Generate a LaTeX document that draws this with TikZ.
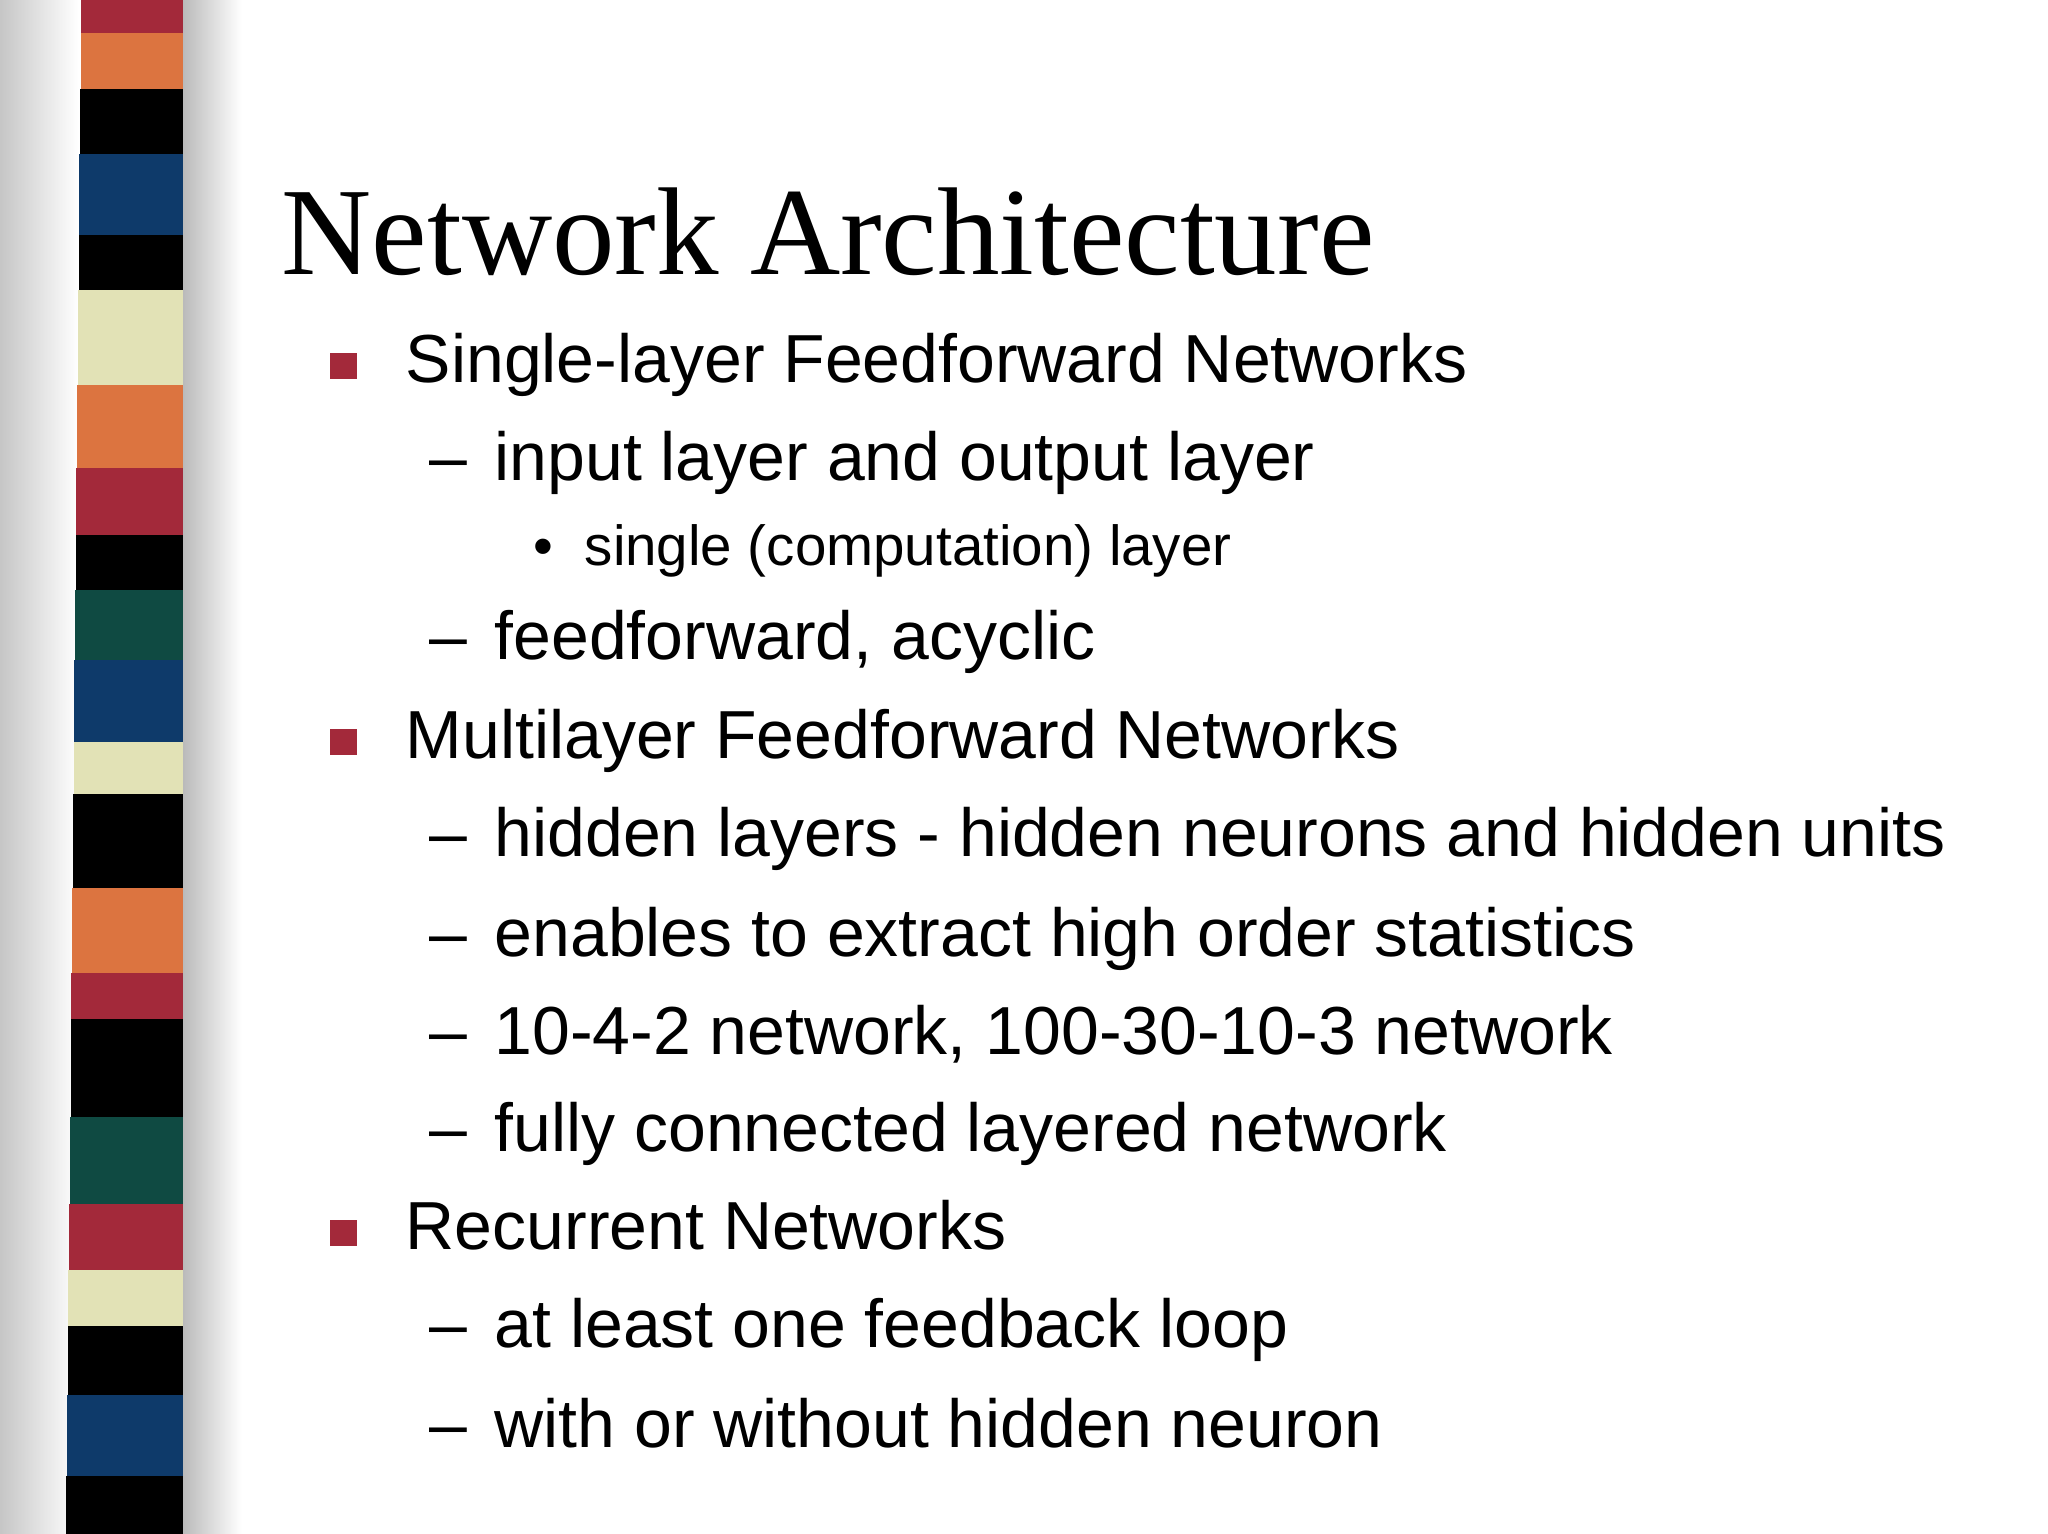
\documentclass[tikz,border=0pt]{standalone}
\usepackage{fontspec}
\setmainfont{Liberation Sans}
\newfontfamily\titlefont{Liberation Serif}
\definecolor{sRed}{HTML}{A3293A}
\definecolor{sOrange}{HTML}{DC7440}
\definecolor{sNavy}{HTML}{0E3A6A}
\definecolor{sCream}{HTML}{E2E2B6}
\definecolor{sGreen}{HTML}{0F4A42}
\definecolor{bulletred}{HTML}{A3293A}
\tikzset{
  lone/.style={anchor=base west,font=\fontsize{14.8pt}{16pt}\selectfont,inner sep=0pt},
  lthree/.style={anchor=base west,font=\fontsize{12.3pt}{14pt}\selectfont,inner sep=0pt},
  sq/.style={fill=bulletred,minimum size=0.2cm,inner sep=0pt},
}
\begin{document}
\begin{tikzpicture}[x=0.01cm,y=-0.01cm]
\useasboundingbox (0,0) rectangle (1568,1174);
\fill[white] (0,0) rectangle (1568,1174);
% shadows
\shade[left color=gray!45,right color=white] (0,0) rectangle (60,1174);
\shade[left color=gray!60,right color=white] (135,0) rectangle (185,1174);
% stripe bands
\foreach \a/\b/\c in {0/25/sRed,25/68/sOrange,68/118/black,118/180/sNavy,180/222/black,222/295/sCream,295/358/sOrange,358/410/sRed,410/452/black,452/505/sGreen,505/568/sNavy,568/608/sCream,608/680/black,680/745/sOrange,745/780/sRed,780/855/black,855/922/sGreen,922/972/sRed,972/1015/sCream,1015/1068/black,1068/1130/sNavy,1130/1174/black}{
  \fill[\c] (62-\a/100,\a) rectangle (140,\b+1);
}
\fill[white,opacity=0] (0,0) rectangle (1,1);
% title
\node[anchor=base west,inner sep=0pt,font=\titlefont\fontsize{27.2pt}{30pt}\selectfont] (title) at (215,210) {Network Architecture};
% level 1
\node[sq] (b1) at (263,280) {};
\node[lone] (t1) at (310,293) {Single-layer Feedforward Networks};
\node[lone] (d11) at (328,368) {--};
\node[lone] (t11) at (378,368) {input layer and output layer};
\node[lthree] (d111) at (408,433) {•};
\node[lthree] (t111) at (447,433) {single (computation) layer};
\node[lone] (d12) at (328,505) {--};
\node[lone] (t12) at (378,505) {feedforward, acyclic};
\node[sq] (b2) at (263,568) {};
\node[lone] (t2) at (310,581) {Multilayer Feedforward Networks};
\node[lone] (d21) at (328,656) {--};
\node[lone] (t21) at (378,656) {hidden layers - hidden neurons and hidden units};
\node[lone] (d22) at (328,732) {--};
\node[lone] (t22) at (378,732) {enables to extract high order statistics};
\node[lone] (d23) at (328,807) {--};
\node[lone] (t23) at (378,807) {10-4-2 network, 100-30-10-3 network};
\node[lone] (d24) at (328,882) {--};
\node[lone] (t24) at (378,882) {fully connected layered network};
\node[sq] (b3) at (263,944) {};
\node[lone] (t3) at (310,957) {Recurrent Networks};
\node[lone] (d31) at (328,1032) {--};
\node[lone] (t31) at (378,1032) {at least one feedback loop};
\node[lone] (d32) at (328,1108) {--};
\node[lone] (t32) at (378,1108) {with or without hidden neuron};
\end{tikzpicture}
\end{document}
